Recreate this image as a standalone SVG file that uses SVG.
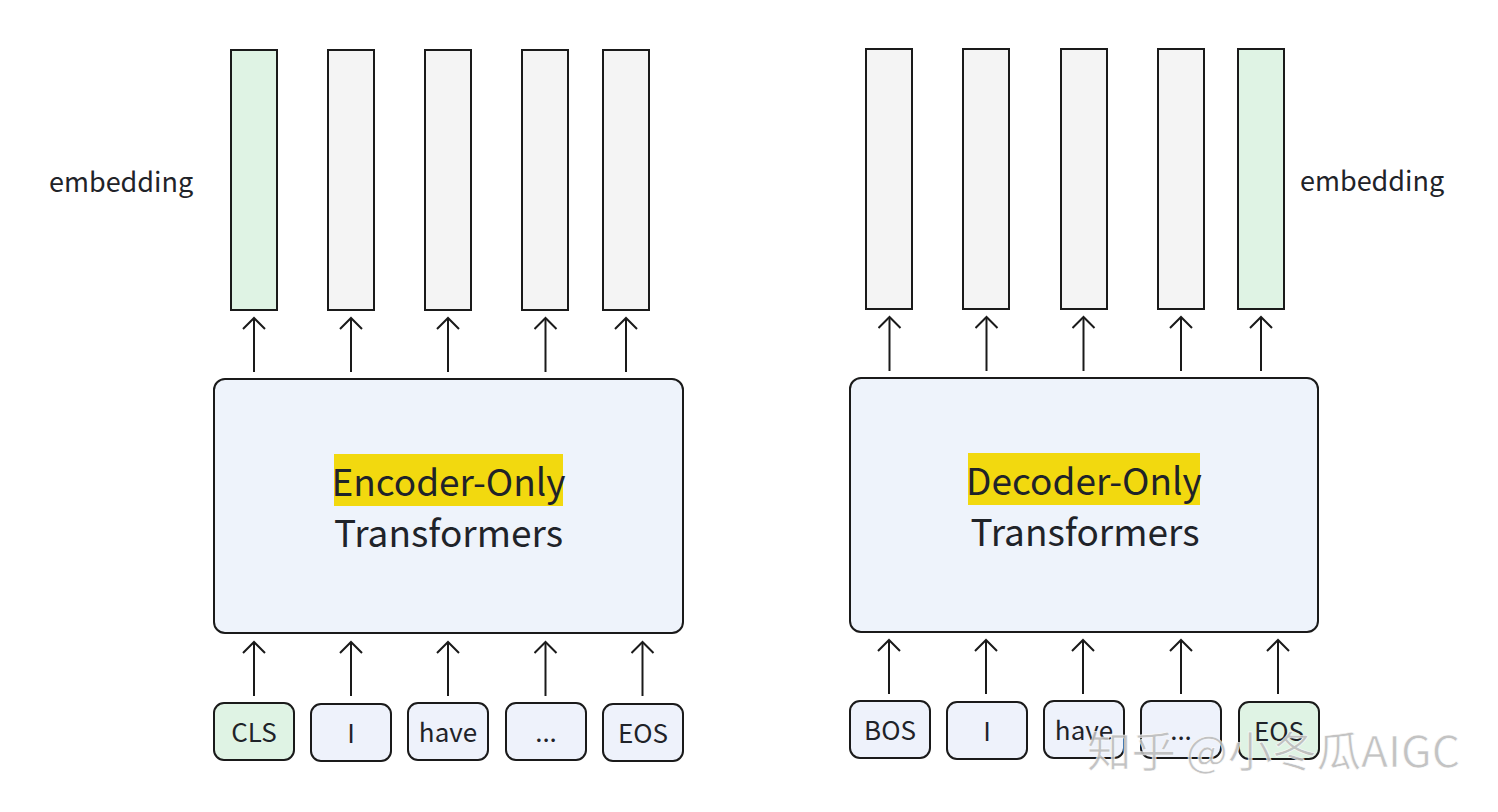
<svg xmlns="http://www.w3.org/2000/svg" width="1498" height="812" viewBox="0 0 1498 812">
<style>
  .bar { fill: #f4f4f4; stroke: #1a1a1a; stroke-width: 2; }
  .bar.hl { fill: #dff3e4; }
  .block { fill: #eef3fb; stroke: #1a1a1a; stroke-width: 2; }
  .tok { fill: #eef2fb; stroke: #1a1a1a; stroke-width: 2; }
  .tok.hl { fill: #dff3e4; }
  .t { font-family: "Noto Sans CJK SC", "Noto Sans", sans-serif; fill: #1f2329; }
  .tok-t { font-size: 26px; text-anchor: middle; }
  .big { font-size: 37px; text-anchor: middle; }
  .emb { font-size: 27px; }
  .mark { fill: #f2d90f; }
  .conn line { stroke: #1a1a1a; stroke-width: 2; fill: none; }
  .wm { font-family: "Noto Sans CJK SC", sans-serif; font-size: 42px; fill: #bdbdbd; stroke: #ffffff; stroke-width: 0.6; opacity: 0.9; }
</style>
<defs>
  <marker id="ah" viewBox="0 0 14 24" refX="12" refY="12" markerWidth="14" markerHeight="24" markerUnits="userSpaceOnUse" orient="auto">
    <path d="M1,1 L12,12 L1,23" fill="none" stroke="#1a1a1a" stroke-width="2"/>
  </marker>
</defs>
<rect width="1498" height="812" fill="#ffffff"/>

<!-- Left panel -->
<g id="emb-left-label"><text class="t emb" x="49" y="192">embedding</text></g>
<g id="enc-out-1"><rect class="bar hl" x="231" y="50" width="46" height="260"/></g>
<g id="enc-out-2"><rect class="bar" x="328" y="50" width="46" height="260"/></g>
<g id="enc-out-3"><rect class="bar" x="425" y="50" width="46" height="260"/></g>
<g id="enc-out-4"><rect class="bar" x="522" y="50" width="46" height="260"/></g>
<g id="enc-out-5"><rect class="bar" x="603" y="50" width="46" height="260"/></g>

<g id="encoder">
  <rect class="block" x="214" y="379" width="469" height="254" rx="11"/>
  <rect class="mark" x="334" y="454" width="229" height="52"/>
  <text class="t big" x="448.5" y="496">Encoder-Only</text>
  <text class="t big" x="448.5" y="547">Transformers</text>
</g>

<g id="enc-tok-1"><rect class="tok hl" x="214" y="703" width="80" height="57" rx="10"/><text class="t tok-t" x="254" y="742">CLS</text></g>
<g id="enc-tok-2"><rect class="tok" x="311" y="704" width="80" height="57" rx="10"/><text class="t tok-t" x="351" y="743">I</text></g>
<g id="enc-tok-3"><rect class="tok" x="408" y="703" width="80" height="57" rx="10"/><text class="t tok-t" x="448" y="742">have</text></g>
<g id="enc-tok-4"><rect class="tok" x="506" y="703" width="80" height="57" rx="10"/><text class="t tok-t" x="546" y="742">...</text></g>
<g id="enc-tok-5"><rect class="tok" x="603" y="704" width="80" height="57" rx="10"/><text class="t tok-t" x="643" y="743">EOS</text></g>

<!-- Right panel -->
<g id="emb-right-label"><text class="t emb" x="1300" y="191">embedding</text></g>
<g id="dec-out-1"><rect class="bar" x="866" y="49" width="46" height="260"/></g>
<g id="dec-out-2"><rect class="bar" x="963" y="49" width="46" height="260"/></g>
<g id="dec-out-3"><rect class="bar" x="1061" y="49" width="46" height="260"/></g>
<g id="dec-out-4"><rect class="bar" x="1158" y="49" width="46" height="260"/></g>
<g id="dec-out-5"><rect class="bar hl" x="1238" y="49" width="46" height="260"/></g>

<g id="decoder">
  <rect class="block" x="850" y="378" width="468" height="254" rx="11"/>
  <rect class="mark" x="968" y="453" width="232" height="52"/>
  <text class="t big" x="1084" y="495">Decoder-Only</text>
  <text class="t big" x="1085" y="546">Transformers</text>
</g>

<g id="dec-tok-1"><rect class="tok" x="850" y="701" width="80" height="57" rx="10"/><text class="t tok-t" x="890" y="740">BOS</text></g>
<g id="dec-tok-2"><rect class="tok" x="947" y="702" width="80" height="57" rx="10"/><text class="t tok-t" x="987" y="741">I</text></g>
<g id="dec-tok-3"><rect class="tok" x="1044" y="701" width="80" height="57" rx="10"/><text class="t tok-t" x="1084" y="740">have</text></g>
<g id="dec-tok-4"><rect class="tok" x="1141" y="701" width="80" height="57" rx="10"/><text class="t tok-t" x="1181" y="740">...</text></g>
<g id="dec-tok-5"><rect class="tok hl" x="1239" y="702" width="80" height="57" rx="10"/><text class="t tok-t" x="1279" y="741">EOS</text></g>

<g id="connectors" class="conn">
  <line x1="254" y1="372" x2="254" y2="318" marker-end="url(#ah)"/>
  <line x1="351" y1="372" x2="351" y2="318" marker-end="url(#ah)"/>
  <line x1="448" y1="372" x2="448" y2="318" marker-end="url(#ah)"/>
  <line x1="545.5" y1="372" x2="545.5" y2="318" marker-end="url(#ah)"/>
  <line x1="626" y1="372" x2="626" y2="318" marker-end="url(#ah)"/>

  <line x1="254" y1="696" x2="254" y2="642" marker-end="url(#ah)"/>
  <line x1="351" y1="696" x2="351" y2="642" marker-end="url(#ah)"/>
  <line x1="448" y1="696" x2="448" y2="642" marker-end="url(#ah)"/>
  <line x1="545.5" y1="696" x2="545.5" y2="642" marker-end="url(#ah)"/>
  <line x1="642.5" y1="696" x2="642.5" y2="642" marker-end="url(#ah)"/>

  <line x1="889.5" y1="371" x2="889.5" y2="317" marker-end="url(#ah)"/>
  <line x1="986.5" y1="371" x2="986.5" y2="317" marker-end="url(#ah)"/>
  <line x1="1083.5" y1="371" x2="1083.5" y2="317" marker-end="url(#ah)"/>
  <line x1="1181" y1="371" x2="1181" y2="317" marker-end="url(#ah)"/>
  <line x1="1261" y1="371" x2="1261" y2="317" marker-end="url(#ah)"/>

  <line x1="889" y1="694" x2="889" y2="640" marker-end="url(#ah)"/>
  <line x1="986" y1="694" x2="986" y2="640" marker-end="url(#ah)"/>
  <line x1="1083" y1="694" x2="1083" y2="640" marker-end="url(#ah)"/>
  <line x1="1181" y1="694" x2="1181" y2="640" marker-end="url(#ah)"/>
  <line x1="1278" y1="694" x2="1278" y2="640" marker-end="url(#ah)"/>
</g>

<g id="watermark"><text class="wm" x="1087" y="767" textLength="373" lengthAdjust="spacingAndGlyphs">知乎 @小冬瓜AIGC</text></g>
</svg>
